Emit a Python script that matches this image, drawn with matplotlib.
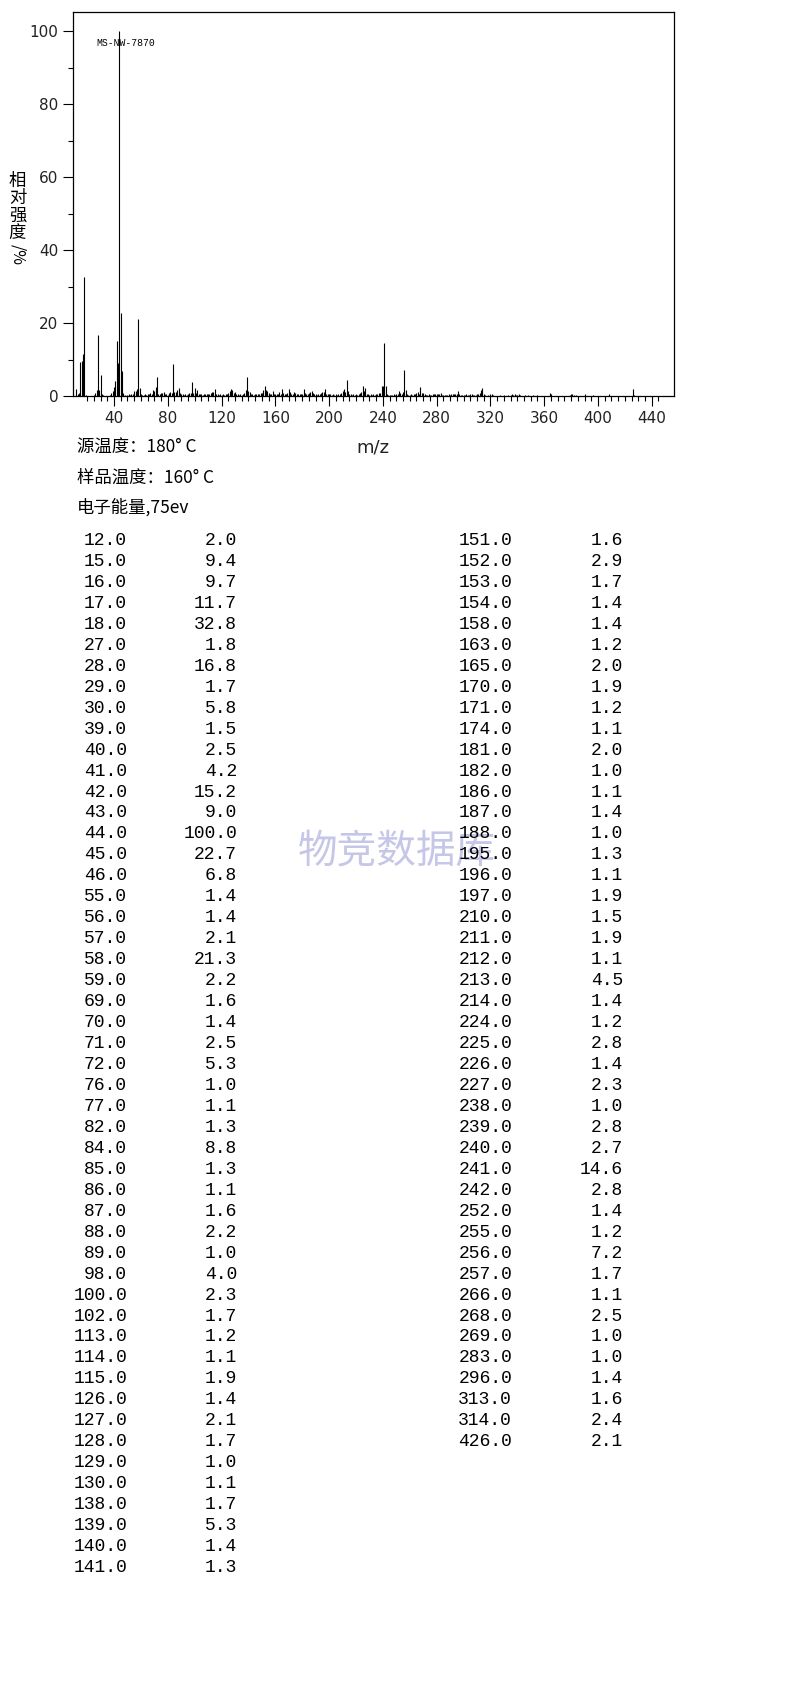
import matplotlib
matplotlib.use("Agg")
import matplotlib.pyplot as plt

# mass spectrum peaks (m/z, relative intensity %) as listed in the table
mz = [12, 15, 16, 17, 18, 27, 28, 29, 30, 39, 40, 41, 42, 43, 44, 45, 46, 55, 56, 57,
      58, 59, 69, 70, 71, 72, 76, 77, 82, 84, 85, 86, 87, 88, 89, 98, 100, 102, 113, 114,
      115, 126, 127, 128, 129, 130, 138, 139, 140, 141,
      151, 152, 153, 154, 158, 163, 165, 170, 171, 174, 181, 182, 186, 187, 188, 195, 196,
      197, 210, 211, 212, 213, 214, 224, 225, 226, 227, 238, 239, 240, 241, 242, 252, 255,
      256, 257, 266, 268, 269, 283, 296, 313, 314, 426]
intensity = [2.0, 9.4, 9.7, 11.7, 32.8, 1.8, 16.8, 1.7, 5.8, 1.5, 2.5, 4.2, 15.2, 9.0, 100.0,
             22.7, 6.8, 1.4, 1.4, 2.1, 21.3, 2.2, 1.6, 1.4, 2.5, 5.3, 1.0, 1.1, 1.3, 8.8,
             1.3, 1.1, 1.6, 2.2, 1.0, 4.0, 2.3, 1.7, 1.2, 1.1, 1.9, 1.4, 2.1, 1.7, 1.0,
             1.1, 1.7, 5.3, 1.4, 1.3,
             1.6, 2.9, 1.7, 1.4, 1.4, 1.2, 2.0, 1.9, 1.2, 1.1, 2.0, 1.0, 1.1, 1.4, 1.0,
             1.3, 1.1, 1.9, 1.5, 1.9, 1.1, 4.5, 1.4, 1.2, 2.8, 1.4, 2.3, 1.0, 2.8, 2.7,
             14.6, 2.8, 1.4, 1.2, 7.2, 1.7, 1.1, 2.5, 1.0, 1.0, 1.4, 1.6, 2.4, 2.1]
n_left = 50  # rows in the left table column

# small peaks (<1%) seen in the plot but not in the table (estimated)
minor_mz = [13, 14, 19, 20, 24, 25, 26, 31, 32, 36, 37, 38, 47, 48, 50, 51, 52, 53, 54,
            60, 61, 62, 63, 64, 65, 66, 67, 68, 73, 74, 75, 78, 79, 80, 81, 83, 90, 91, 92,
            93, 94, 95, 96, 97, 99, 101, 103, 104, 105, 106, 107, 108, 109, 110, 111, 112,
            116, 117, 118, 119, 120, 121, 122, 123, 124, 125, 131, 132, 133, 134, 135, 136,
            137, 142, 143, 144, 145, 146, 147, 148, 149, 150, 155, 156, 157, 159, 160, 161,
            162, 164, 166, 167, 168, 169, 172, 173, 175, 176, 177, 178, 179, 180, 183, 184,
            185, 189, 190, 191, 192, 193, 194, 198, 199, 200, 201, 202, 203, 204, 205, 206,
            207, 208, 209, 215, 216, 217, 218, 219, 220, 221, 222, 223, 228, 229, 230, 231,
            232, 233, 234, 235, 236, 237, 243, 244, 245, 246, 247, 248, 249, 250, 251, 253,
            254, 258, 259, 260, 261, 262, 263, 264, 265, 267, 270, 271, 272, 273, 274, 275,
            276, 277, 278, 279, 280, 281, 282, 284, 285, 286, 287, 288, 289, 290, 291, 292,
            293, 294, 295, 297, 298, 299, 300, 301, 302, 303, 304, 305, 306, 307, 308, 309,
            310, 311, 312, 315, 316, 317, 318, 320, 321, 322, 325, 327, 328, 330, 333, 335,
            336, 337, 338, 339, 340, 341, 342, 344, 346, 348, 352, 355, 364, 365, 379, 380,
            381, 382, 384, 390, 396, 408, 414, 427, 444]
minor_int = [0.5, 0.8, 0.3, 0.2, 0.2, 0.4, 0.9, 0.6, 0.4, 0.2, 0.4, 0.8, 0.8, 0.3, 0.3,
             0.6, 0.4, 0.7, 0.6, 0.5, 0.3, 0.4, 0.5, 0.4, 0.6, 0.5, 0.8, 0.6, 0.7, 0.6, 0.8,
             0.5, 0.6, 0.4, 0.8, 0.9, 0.6, 0.7, 0.4, 0.5, 0.4, 0.6, 0.8, 0.9, 0.8, 0.9, 0.6,
             0.5, 0.6, 0.4, 0.5, 0.6, 0.7, 0.5, 0.6, 0.8, 0.7, 0.5, 0.4, 0.5, 0.4, 0.5, 0.4,
             0.6, 0.5, 0.8, 0.6, 0.5, 0.4, 0.5, 0.4, 0.6, 0.9, 0.6, 0.5, 0.4, 0.6, 0.5, 0.7,
             0.5, 0.8, 0.9, 0.8, 0.5, 0.7, 0.6, 0.5, 0.6, 0.5, 0.7, 0.8, 0.6, 0.7, 0.8, 0.6,
             0.5, 0.8, 0.6, 0.5, 0.6, 0.7, 0.5, 0.7, 0.6, 0.8, 0.6, 0.5, 0.4, 0.5, 0.6, 0.8,
             0.6, 0.5, 0.7, 0.5, 0.4, 0.5, 0.4, 0.5, 0.4, 0.5, 0.6, 0.9, 0.6, 0.5, 0.4, 0.5,
             0.4, 0.5, 0.4, 0.6, 0.8, 0.7, 0.6, 0.4, 0.5, 0.4, 0.5, 0.4, 0.6, 0.7, 0.8, 0.6,
             0.3, 0.4, 0.3, 0.4, 0.5, 0.4, 0.7, 0.5, 0.8, 0.7, 0.6, 0.4, 0.3, 0.5, 0.4, 0.6,
             0.7, 0.8, 0.6, 0.8, 0.5, 0.3, 0.4, 0.5, 0.4, 0.3, 0.5, 0.6, 0.5, 0.6, 0.7, 0.5,
             0.4, 0.3, 0.4, 0.3, 0.4, 0.5, 0.4, 0.6, 0.5, 0.5, 0.7, 0.6, 0.5, 0.4, 0.3, 0.4,
             0.3, 0.5, 0.4, 0.3, 0.6, 0.5, 0.4, 0.4, 0.3, 0.5, 0.6, 0.8, 0.6, 0.3, 0.2, 0.3,
             0.5, 0.6, 0.4, 0.2, 0.3, 0.2, 0.3, 0.3, 0.4, 0.5, 0.3, 0.5, 0.4, 0.3, 0.5, 0.3,
             0.2, 0.3, 0.4, 0.3, 0.4, 0.8, 0.7, 0.3, 0.5, 0.7, 0.4, 0.3, 0.6, 0.3, 0.6, 0.2,
             0.3, 0.2]

sample_id = "MS-NW-7870"
info_lines = ["源温度：180° C", "样品温度：160° C", "电子能量,75ev"]
ylabel_chars = "相对强度"

W, H = 794, 1701
fig = plt.figure(figsize=(W / 100, H / 100), dpi=100)
cjk = ["Noto Sans CJK SC", "DejaVu Sans"]


def fx(px):
    return px / W


def fy(py):
    return 1 - py / H


# spectrum axes
ax = fig.add_axes([fx(73), fy(396.3), (674.3 - 73) / W, (396.3 - 12) / H])
ax.vlines(minor_mz, 0, minor_int, color="black", lw=0.8)
ax.vlines(mz, 0, intensity, color="black", lw=0.8)
ax.set_xlim(9.5, 456.8)
ax.set_ylim(0, 105.3)
ax.set_xticks(range(40, 441, 40))
ax.set_xticks(range(20, 446, 5), minor=True)
ax.set_yticks(range(0, 101, 20))
ax.set_yticks(range(10, 100, 20), minor=True)
ax.tick_params(which="major", length=7.5, width=0.8, direction="out", labelsize=11,
               pad=3, labelcolor="#222222")
ax.tick_params(which="minor", length=3.8, width=0.8, direction="out")
for s in ax.spines.values():
    s.set_linewidth(0.9)
ax.text(27, 96.8, sample_id, family="Liberation Mono", fontsize=7, va="center", ha="left")

# y label: stacked characters plus rotated unit
for i, ch in enumerate(ylabel_chars):
    fig.text(fx(17.5), fy(180.5 + i * 17.5), ch, family=cjk, fontsize=12.5,
             ha="center", va="center")
fig.text(fx(17.5), fy(254), "/%", family=cjk, fontsize=11.5, rotation=-90,
         ha="center", va="center")

fig.text(fx(373), fy(447), "m/z", fontsize=13, ha="center", va="center",
         color="#222222")

for i, line in enumerate(info_lines):
    fig.text(fx(77), fy(453 + i * 30), line, family=cjk, fontsize=12.5,
             ha="left", va="baseline")

# watermark
fig.text(fx(396.5), fy(851), "物竞数据库", family=cjk, fontsize=28.5,
         color="#c6c6e8", ha="center", va="center", zorder=0)

# peak table
row0, dy = 545, 20.96
for i, (m, v) in enumerate(zip(mz, intensity)):
    if i < n_left:
        xm, xv, r = 127, 237, i
    else:
        xm, xv, r = 512, 623, i - n_left
    y = fy(row0 + r * dy)
    fig.text(fx(xm), y, f"{m:.1f}", family="Liberation Mono", fontsize=13,
             ha="right", va="baseline", zorder=2)
    fig.text(fx(xv), y, f"{v:.1f}", family="Liberation Mono", fontsize=13,
             ha="right", va="baseline", zorder=2)

fig.savefig("out.png", dpi=100)
